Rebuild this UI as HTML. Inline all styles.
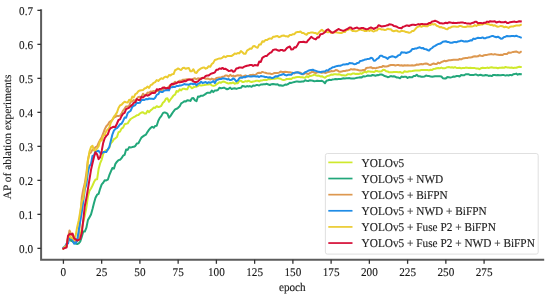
<!DOCTYPE html>
<html><head><meta charset="utf-8"><style>
html,body{margin:0;padding:0;background:#fff;}
svg{display:block;}
text{text-rendering:geometricPrecision;font-family:"Liberation Serif","DejaVu Serif",serif;font-size:11.2px;fill:#1a1a1a;stroke:#1a1a1a;stroke-width:0.12px;}
</style></head><body>
<svg width="550" height="299" viewBox="0 0 550 299">
<g fill="none" stroke-width="2.0" stroke-linejoin="round" stroke-linecap="square">
<path d="M63.4,248.6 L64.9,247.1 L66.5,246.5 L68.0,239.2 L69.5,238.0 L71.1,238.8 L72.6,239.0 L74.1,241.0 L75.7,241.0 L77.2,239.0 L78.7,238.3 L80.2,235.7 L81.8,229.2 L83.3,221.9 L84.8,215.6 L86.4,207.4 L87.9,196.7 L89.4,190.9 L91.0,188.5 L92.5,185.5 L94.0,182.1 L95.5,179.5 L97.1,179.3 L98.6,169.1 L100.1,163.4 L101.7,159.6 L103.2,154.0 L104.7,151.3 L106.3,150.0 L107.8,149.7 L109.3,147.7 L110.8,143.3 L112.4,141.6 L113.9,139.2 L115.4,138.3 L117.0,137.0 L118.5,132.2 L120.0,131.6 L121.5,128.6 L123.1,127.7 L124.6,124.3 L126.1,123.8 L127.7,123.4 L129.2,120.8 L130.7,119.0 L132.3,118.0 L133.8,117.1 L135.3,116.4 L136.8,115.3 L138.4,115.0 L139.9,113.5 L141.4,112.6 L143.0,112.3 L144.5,113.5 L146.0,113.6 L147.6,110.8 L149.1,112.2 L150.6,110.4 L152.1,109.2 L153.7,107.6 L155.2,107.9 L156.7,106.2 L158.3,107.0 L159.8,106.7 L161.3,105.8 L162.9,102.8 L164.4,101.4 L165.9,98.8 L167.4,98.2 L169.0,101.8 L170.5,99.5 L172.0,97.6 L173.6,95.4 L175.1,94.7 L176.6,91.0 L178.1,91.8 L179.7,89.4 L181.2,90.4 L182.7,88.7 L184.3,88.8 L185.8,89.3 L187.3,89.2 L188.9,85.9 L190.4,86.6 L191.9,88.3 L193.4,87.3 L195.0,86.7 L196.5,86.7 L198.0,86.0 L199.6,85.0 L201.1,85.6 L202.6,85.2 L204.2,85.1 L205.7,84.8 L207.2,84.6 L208.7,84.5 L210.3,84.1 L211.8,85.4 L213.3,85.9 L214.9,85.5 L216.4,84.4 L217.9,83.4 L219.4,82.2 L221.0,82.8 L222.5,81.7 L224.0,81.6 L225.6,82.4 L227.1,83.0 L228.6,83.6 L230.2,83.0 L231.7,83.2 L233.2,82.4 L234.7,83.7 L236.3,83.1 L237.8,83.2 L239.3,80.7 L240.9,80.7 L242.4,81.9 L243.9,81.9 L245.5,81.1 L247.0,81.5 L248.5,80.7 L250.0,81.5 L251.6,82.0 L253.1,81.5 L254.6,81.2 L256.2,80.8 L257.7,80.7 L259.2,81.4 L260.8,80.4 L262.3,80.4 L263.8,79.9 L265.3,79.7 L266.9,79.9 L268.4,79.0 L269.9,79.2 L271.5,79.0 L273.0,78.7 L274.5,78.7 L276.0,78.5 L277.6,78.1 L279.1,78.4 L280.6,78.7 L282.2,79.8 L283.7,80.0 L285.2,79.7 L286.8,79.0 L288.3,79.0 L289.8,78.8 L291.3,79.0 L292.9,77.7 L294.4,77.7 L295.9,77.3 L297.5,77.1 L299.0,76.9 L300.5,77.3 L302.1,77.3 L303.6,77.6 L305.1,77.8 L306.6,76.2 L308.2,77.2 L309.7,75.8 L311.2,75.9 L312.8,75.4 L314.3,74.6 L315.8,75.2 L317.4,75.7 L318.9,75.6 L320.4,76.4 L321.9,76.2 L323.5,77.1 L325.0,77.7 L326.5,76.4 L328.1,75.9 L329.6,75.5 L331.1,74.5 L332.6,74.7 L334.2,74.2 L335.7,74.3 L337.2,74.5 L338.8,74.2 L340.3,74.6 L341.8,75.3 L343.4,75.3 L344.9,75.5 L346.4,75.2 L347.9,74.2 L349.5,74.3 L351.0,74.4 L352.5,73.6 L354.1,73.5 L355.6,74.0 L357.1,73.8 L358.7,74.0 L360.2,73.3 L361.7,73.7 L363.2,72.6 L364.8,71.8 L366.3,72.4 L367.8,71.3 L369.4,71.4 L370.9,71.8 L372.4,71.8 L373.9,72.1 L375.5,71.1 L377.0,70.9 L378.5,71.6 L380.1,71.4 L381.6,71.2 L383.1,69.8 L384.7,70.0 L386.2,71.3 L387.7,71.5 L389.2,72.3 L390.8,72.2 L392.3,72.3 L393.8,72.0 L395.4,72.0 L396.9,72.0 L398.4,72.2 L400.0,72.0 L401.5,72.7 L403.0,72.7 L404.5,71.3 L406.1,71.7 L407.6,71.7 L409.1,71.2 L410.7,71.2 L412.2,71.0 L413.7,70.7 L415.3,70.4 L416.8,70.6 L418.3,70.5 L419.8,70.5 L421.4,69.9 L422.9,70.0 L424.4,70.1 L426.0,70.0 L427.5,70.0 L429.0,70.4 L430.5,69.7 L432.1,70.0 L433.6,68.9 L435.1,68.8 L436.7,68.2 L438.2,68.0 L439.7,68.3 L441.3,67.6 L442.8,68.3 L444.3,68.2 L445.8,67.9 L447.4,67.2 L448.9,67.1 L450.4,67.4 L452.0,67.3 L453.5,67.7 L455.0,67.1 L456.6,68.0 L458.1,67.9 L459.6,67.7 L461.1,68.4 L462.7,68.0 L464.2,68.1 L465.7,67.6 L467.3,67.7 L468.8,67.9 L470.3,67.8 L471.8,68.1 L473.4,68.0 L474.9,68.1 L476.4,68.5 L478.0,68.5 L479.5,69.2 L481.0,68.2 L482.6,67.7 L484.1,67.9 L485.6,68.1 L487.1,67.6 L488.7,67.9 L490.2,67.6 L491.7,67.3 L493.3,67.7 L494.8,67.8 L496.3,67.7 L497.9,68.2 L499.4,67.7 L500.9,67.8 L502.4,67.6 L504.0,67.8 L505.5,67.0 L507.0,67.4 L508.6,67.5 L510.1,67.7 L511.6,67.6 L513.2,67.9 L514.7,67.7 L516.2,67.7 L517.7,67.2 L519.3,66.8 L520.8,67.0" stroke="#cfe92c"/>
<path d="M63.4,248.6 L64.9,247.1 L66.5,246.5 L68.0,240.0 L69.5,239.0 L71.1,240.7 L72.6,241.3 L74.1,243.2 L75.7,243.6 L77.2,244.0 L78.7,243.3 L80.2,241.6 L81.8,236.6 L83.3,231.5 L84.8,231.6 L86.4,227.6 L87.9,220.1 L89.4,217.4 L91.0,214.5 L92.5,209.1 L94.0,203.1 L95.5,197.8 L97.1,194.7 L98.6,193.9 L100.1,188.8 L101.7,184.4 L103.2,182.8 L104.7,180.3 L106.3,180.4 L107.8,179.7 L109.3,175.2 L110.8,171.7 L112.4,168.0 L113.9,168.7 L115.4,163.9 L117.0,161.7 L118.5,160.1 L120.0,159.7 L121.5,158.3 L123.1,155.7 L124.6,154.9 L126.1,149.5 L127.7,149.9 L129.2,147.1 L130.7,147.5 L132.3,147.1 L133.8,146.8 L135.3,146.0 L136.8,143.6 L138.4,143.3 L139.9,140.4 L141.4,137.6 L143.0,136.4 L144.5,135.4 L146.0,134.6 L147.6,131.8 L149.1,129.7 L150.6,128.0 L152.1,126.7 L153.7,127.8 L155.2,125.9 L156.7,125.8 L158.3,120.7 L159.8,117.9 L161.3,116.1 L162.9,113.1 L164.4,112.4 L165.9,112.8 L167.4,113.6 L169.0,117.7 L170.5,116.0 L172.0,113.6 L173.6,111.3 L175.1,109.4 L176.6,108.8 L178.1,107.8 L179.7,106.2 L181.2,103.4 L182.7,102.5 L184.3,101.2 L185.8,101.6 L187.3,100.2 L188.9,100.5 L190.4,100.9 L191.9,98.3 L193.4,98.1 L195.0,100.4 L196.5,101.2 L198.0,96.5 L199.6,96.7 L201.1,95.7 L202.6,95.8 L204.2,94.9 L205.7,93.9 L207.2,92.7 L208.7,92.7 L210.3,92.8 L211.8,90.5 L213.3,92.1 L214.9,90.4 L216.4,90.5 L217.9,90.0 L219.4,87.8 L221.0,88.2 L222.5,88.0 L224.0,87.6 L225.6,88.5 L227.1,89.3 L228.6,88.7 L230.2,87.6 L231.7,89.1 L233.2,88.4 L234.7,88.3 L236.3,88.9 L237.8,88.4 L239.3,87.9 L240.9,87.8 L242.4,86.0 L243.9,86.3 L245.5,86.8 L247.0,86.1 L248.5,86.4 L250.0,86.1 L251.6,86.8 L253.1,85.5 L254.6,85.8 L256.2,85.1 L257.7,85.1 L259.2,85.5 L260.8,84.5 L262.3,84.5 L263.8,84.3 L265.3,84.2 L266.9,83.8 L268.4,84.5 L269.9,85.0 L271.5,84.2 L273.0,84.0 L274.5,84.3 L276.0,84.6 L277.6,84.3 L279.1,85.4 L280.6,85.3 L282.2,85.8 L283.7,85.5 L285.2,84.5 L286.8,84.7 L288.3,84.0 L289.8,82.7 L291.3,82.9 L292.9,82.4 L294.4,82.0 L295.9,81.6 L297.5,81.5 L299.0,81.7 L300.5,81.8 L302.1,81.5 L303.6,81.6 L305.1,80.3 L306.6,80.7 L308.2,81.0 L309.7,80.3 L311.2,80.4 L312.8,80.8 L314.3,81.2 L315.8,81.1 L317.4,80.8 L318.9,81.0 L320.4,81.0 L321.9,80.7 L323.5,81.8 L325.0,83.3 L326.5,80.8 L328.1,80.3 L329.6,79.7 L331.1,80.1 L332.6,79.4 L334.2,79.3 L335.7,79.0 L337.2,79.3 L338.8,78.9 L340.3,79.1 L341.8,78.7 L343.4,78.3 L344.9,78.4 L346.4,78.3 L347.9,78.2 L349.5,78.1 L351.0,78.5 L352.5,78.5 L354.1,78.6 L355.6,78.1 L357.1,77.7 L358.7,77.6 L360.2,77.3 L361.7,77.4 L363.2,76.2 L364.8,76.5 L366.3,76.1 L367.8,75.5 L369.4,75.8 L370.9,75.8 L372.4,75.0 L373.9,75.3 L375.5,75.7 L377.0,75.1 L378.5,75.2 L380.1,74.5 L381.6,74.5 L383.1,75.2 L384.7,76.1 L386.2,76.4 L387.7,77.2 L389.2,76.7 L390.8,76.1 L392.3,76.4 L393.8,76.2 L395.4,76.8 L396.9,77.5 L398.4,77.6 L400.0,78.2 L401.5,76.6 L403.0,76.9 L404.5,76.7 L406.1,76.7 L407.6,78.0 L409.1,77.0 L410.7,77.2 L412.2,77.2 L413.7,76.0 L415.3,75.9 L416.8,74.8 L418.3,76.2 L419.8,76.3 L421.4,76.8 L422.9,76.7 L424.4,76.6 L426.0,75.5 L427.5,75.9 L429.0,76.1 L430.5,76.4 L432.1,76.8 L433.6,76.5 L435.1,76.2 L436.7,76.3 L438.2,76.3 L439.7,76.2 L441.3,76.4 L442.8,78.2 L444.3,78.4 L445.8,78.4 L447.4,77.1 L448.9,77.2 L450.4,77.6 L452.0,77.1 L453.5,76.5 L455.0,76.7 L456.6,76.0 L458.1,76.0 L459.6,76.5 L461.1,75.1 L462.7,75.2 L464.2,75.3 L465.7,74.2 L467.3,74.3 L468.8,74.3 L470.3,75.1 L471.8,74.9 L473.4,75.1 L474.9,74.6 L476.4,74.6 L478.0,75.4 L479.5,75.1 L481.0,74.8 L482.6,75.5 L484.1,75.4 L485.6,75.1 L487.1,75.2 L488.7,75.9 L490.2,75.6 L491.7,76.1 L493.3,74.9 L494.8,75.0 L496.3,75.3 L497.9,75.1 L499.4,75.2 L500.9,75.2 L502.4,75.1 L504.0,75.1 L505.5,75.6 L507.0,75.1 L508.6,75.5 L510.1,74.9 L511.6,75.3 L513.2,74.3 L514.7,74.1 L516.2,73.6 L517.7,74.7 L519.3,74.0 L520.8,74.1" stroke="#22a77a"/>
<path d="M63.4,248.6 L64.9,246.7 L66.5,246.0 L68.0,238.0 L69.5,230.5 L71.1,233.6 L72.6,236.0 L74.1,240.9 L75.7,241.0 L77.2,240.9 L78.7,236.3 L80.2,218.0 L81.8,197.5 L83.3,189.3 L84.8,183.3 L86.4,173.1 L87.9,160.3 L89.4,153.6 L91.0,152.4 L92.5,149.6 L94.0,149.1 L95.5,147.1 L97.1,146.4 L98.6,142.9 L100.1,139.9 L101.7,137.2 L103.2,133.3 L104.7,129.4 L106.3,126.2 L107.8,124.7 L109.3,122.2 L110.8,121.2 L112.4,119.8 L113.9,117.6 L115.4,116.8 L117.0,115.8 L118.5,116.0 L120.0,115.6 L121.5,113.7 L123.1,110.5 L124.6,108.5 L126.1,106.4 L127.7,106.5 L129.2,105.9 L130.7,101.7 L132.3,101.5 L133.8,100.1 L135.3,101.1 L136.8,98.6 L138.4,96.9 L139.9,96.8 L141.4,97.1 L143.0,93.7 L144.5,95.2 L146.0,94.6 L147.6,92.6 L149.1,92.7 L150.6,91.5 L152.1,91.7 L153.7,90.9 L155.2,91.3 L156.7,91.1 L158.3,90.9 L159.8,90.8 L161.3,90.3 L162.9,89.9 L164.4,87.4 L165.9,88.2 L167.4,87.9 L169.0,86.4 L170.5,85.0 L172.0,85.2 L173.6,83.2 L175.1,81.8 L176.6,83.3 L178.1,81.6 L179.7,80.7 L181.2,80.8 L182.7,79.8 L184.3,79.7 L185.8,79.4 L187.3,79.2 L188.9,79.6 L190.4,79.8 L191.9,80.5 L193.4,78.7 L195.0,78.3 L196.5,79.3 L198.0,78.2 L199.6,78.6 L201.1,78.2 L202.6,77.8 L204.2,78.1 L205.7,78.8 L207.2,78.6 L208.7,78.8 L210.3,79.6 L211.8,78.6 L213.3,79.1 L214.9,79.7 L216.4,78.0 L217.9,77.8 L219.4,77.6 L221.0,77.6 L222.5,76.7 L224.0,76.5 L225.6,75.4 L227.1,75.5 L228.6,76.6 L230.2,74.8 L231.7,76.1 L233.2,75.6 L234.7,76.5 L236.3,75.7 L237.8,75.3 L239.3,75.6 L240.9,75.3 L242.4,77.2 L243.9,76.2 L245.5,75.4 L247.0,76.6 L248.5,76.1 L250.0,75.1 L251.6,75.0 L253.1,74.8 L254.6,75.3 L256.2,74.2 L257.7,73.0 L259.2,72.7 L260.8,73.0 L262.3,71.9 L263.8,72.4 L265.3,72.8 L266.9,73.3 L268.4,73.5 L269.9,73.5 L271.5,74.1 L273.0,73.7 L274.5,73.0 L276.0,73.1 L277.6,73.0 L279.1,72.6 L280.6,71.6 L282.2,71.9 L283.7,71.9 L285.2,71.8 L286.8,71.9 L288.3,72.3 L289.8,72.3 L291.3,72.6 L292.9,72.8 L294.4,73.5 L295.9,72.5 L297.5,72.6 L299.0,72.4 L300.5,72.8 L302.1,74.3 L303.6,74.2 L305.1,73.1 L306.6,73.5 L308.2,74.1 L309.7,73.1 L311.2,72.3 L312.8,71.7 L314.3,72.5 L315.8,73.1 L317.4,72.4 L318.9,72.0 L320.4,72.2 L321.9,72.9 L323.5,72.4 L325.0,72.9 L326.5,72.7 L328.1,71.9 L329.6,71.7 L331.1,71.1 L332.6,71.2 L334.2,71.0 L335.7,70.1 L337.2,70.2 L338.8,71.4 L340.3,71.7 L341.8,71.4 L343.4,71.1 L344.9,71.1 L346.4,70.5 L347.9,70.4 L349.5,70.0 L351.0,69.1 L352.5,69.5 L354.1,69.3 L355.6,69.6 L357.1,69.8 L358.7,70.2 L360.2,70.6 L361.7,70.5 L363.2,69.9 L364.8,70.2 L366.3,67.9 L367.8,67.7 L369.4,67.5 L370.9,67.2 L372.4,68.2 L373.9,67.9 L375.5,68.4 L377.0,67.8 L378.5,67.5 L380.1,66.9 L381.6,67.1 L383.1,65.9 L384.7,66.5 L386.2,66.5 L387.7,66.3 L389.2,65.5 L390.8,65.0 L392.3,64.9 L393.8,65.0 L395.4,65.5 L396.9,65.1 L398.4,65.0 L400.0,65.5 L401.5,65.3 L403.0,65.8 L404.5,65.2 L406.1,65.5 L407.6,65.2 L409.1,65.4 L410.7,65.5 L412.2,65.2 L413.7,65.6 L415.3,65.3 L416.8,64.5 L418.3,64.7 L419.8,64.2 L421.4,64.0 L422.9,64.4 L424.4,63.7 L426.0,63.6 L427.5,63.8 L429.0,64.7 L430.5,65.0 L432.1,64.2 L433.6,63.5 L435.1,64.0 L436.7,63.9 L438.2,62.6 L439.7,63.2 L441.3,62.1 L442.8,61.5 L444.3,60.8 L445.8,61.3 L447.4,60.7 L448.9,60.3 L450.4,60.2 L452.0,59.9 L453.5,59.7 L455.0,59.7 L456.6,59.7 L458.1,59.8 L459.6,59.0 L461.1,59.4 L462.7,58.6 L464.2,58.3 L465.7,58.1 L467.3,58.1 L468.8,57.4 L470.3,57.5 L471.8,57.3 L473.4,56.5 L474.9,56.3 L476.4,56.6 L478.0,56.3 L479.5,55.3 L481.0,55.8 L482.6,56.0 L484.1,55.2 L485.6,54.9 L487.1,54.9 L488.7,54.4 L490.2,54.2 L491.7,54.1 L493.3,54.6 L494.8,54.1 L496.3,54.5 L497.9,54.7 L499.4,54.9 L500.9,54.8 L502.4,55.1 L504.0,54.0 L505.5,54.0 L507.0,54.0 L508.6,52.5 L510.1,52.7 L511.6,52.4 L513.2,51.9 L514.7,51.7 L516.2,51.5 L517.7,52.1 L519.3,52.8 L520.8,51.8" stroke="#dd9850"/>
<path d="M63.4,247.5 L64.9,246.6 L66.5,243.6 L68.0,243.5 L69.5,237.6 L71.1,238.6 L72.6,239.6 L74.1,243.6 L75.7,243.2 L77.2,240.2 L78.7,230.6 L80.2,221.5 L81.8,211.8 L83.3,201.1 L84.8,189.5 L86.4,184.4 L87.9,172.1 L89.4,166.1 L91.0,164.0 L92.5,156.0 L94.0,155.3 L95.5,151.0 L97.1,151.2 L98.6,150.8 L100.1,152.9 L101.7,153.6 L103.2,152.1 L104.7,152.1 L106.3,152.1 L107.8,149.5 L109.3,147.0 L110.8,141.1 L112.4,134.5 L113.9,130.7 L115.4,128.9 L117.0,128.2 L118.5,126.3 L120.0,124.3 L121.5,123.8 L123.1,120.9 L124.6,117.6 L126.1,117.8 L127.7,113.0 L129.2,111.8 L130.7,110.7 L132.3,106.9 L133.8,105.8 L135.3,105.0 L136.8,102.8 L138.4,102.9 L139.9,102.8 L141.4,100.0 L143.0,99.9 L144.5,99.9 L146.0,99.0 L147.6,99.3 L149.1,98.4 L150.6,98.7 L152.1,98.7 L153.7,99.1 L155.2,97.7 L156.7,94.9 L158.3,94.2 L159.8,91.4 L161.3,91.9 L162.9,91.9 L164.4,90.4 L165.9,90.2 L167.4,90.0 L169.0,90.4 L170.5,87.2 L172.0,87.3 L173.6,86.7 L175.1,86.9 L176.6,86.0 L178.1,86.1 L179.7,85.5 L181.2,85.4 L182.7,84.9 L184.3,84.0 L185.8,84.6 L187.3,84.6 L188.9,84.7 L190.4,83.8 L191.9,83.8 L193.4,84.3 L195.0,83.3 L196.5,85.4 L198.0,83.9 L199.6,83.2 L201.1,81.7 L202.6,83.0 L204.2,82.5 L205.7,82.0 L207.2,83.2 L208.7,82.2 L210.3,82.7 L211.8,82.1 L213.3,81.1 L214.9,83.0 L216.4,80.1 L217.9,79.7 L219.4,79.0 L221.0,79.1 L222.5,78.3 L224.0,78.5 L225.6,78.7 L227.1,79.4 L228.6,79.1 L230.2,80.1 L231.7,79.8 L233.2,78.3 L234.7,79.3 L236.3,81.4 L237.8,80.5 L239.3,78.2 L240.9,77.5 L242.4,77.7 L243.9,76.9 L245.5,77.2 L247.0,76.2 L248.5,76.3 L250.0,76.4 L251.6,76.5 L253.1,76.3 L254.6,76.3 L256.2,76.5 L257.7,76.2 L259.2,77.0 L260.8,76.0 L262.3,76.3 L263.8,76.5 L265.3,77.1 L266.9,77.1 L268.4,77.6 L269.9,77.3 L271.5,77.9 L273.0,77.9 L274.5,77.0 L276.0,76.2 L277.6,76.4 L279.1,75.4 L280.6,75.0 L282.2,74.5 L283.7,74.0 L285.2,75.1 L286.8,75.4 L288.3,74.7 L289.8,74.7 L291.3,74.8 L292.9,73.0 L294.4,72.8 L295.9,72.4 L297.5,72.2 L299.0,72.8 L300.5,73.6 L302.1,73.9 L303.6,73.6 L305.1,72.2 L306.6,71.8 L308.2,70.7 L309.7,70.3 L311.2,69.9 L312.8,69.7 L314.3,70.5 L315.8,70.8 L317.4,71.5 L318.9,71.7 L320.4,72.2 L321.9,71.7 L323.5,71.6 L325.0,71.6 L326.5,70.2 L328.1,70.6 L329.6,69.0 L331.1,68.4 L332.6,67.3 L334.2,67.0 L335.7,66.4 L337.2,66.0 L338.8,65.8 L340.3,65.7 L341.8,65.1 L343.4,64.4 L344.9,64.5 L346.4,64.1 L347.9,64.3 L349.5,63.1 L351.0,63.3 L352.5,63.3 L354.1,64.2 L355.6,64.1 L357.1,63.1 L358.7,62.8 L360.2,60.9 L361.7,60.7 L363.2,60.3 L364.8,59.6 L366.3,59.4 L367.8,58.9 L369.4,58.8 L370.9,57.8 L372.4,58.2 L373.9,60.7 L375.5,60.4 L377.0,58.9 L378.5,58.1 L380.1,55.7 L381.6,55.7 L383.1,56.7 L384.7,57.1 L386.2,57.7 L387.7,58.9 L389.2,57.3 L390.8,56.7 L392.3,56.2 L393.8,56.6 L395.4,57.5 L396.9,56.7 L398.4,55.3 L400.0,54.9 L401.5,52.3 L403.0,52.6 L404.5,52.4 L406.1,53.0 L407.6,52.5 L409.1,52.0 L410.7,51.2 L412.2,49.1 L413.7,49.1 L415.3,48.4 L416.8,48.4 L418.3,47.7 L419.8,47.3 L421.4,48.2 L422.9,47.9 L424.4,49.1 L426.0,49.2 L427.5,50.0 L429.0,50.7 L430.5,49.0 L432.1,48.0 L433.6,46.6 L435.1,45.9 L436.7,44.9 L438.2,44.0 L439.7,43.8 L441.3,43.0 L442.8,41.7 L444.3,41.4 L445.8,41.2 L447.4,42.0 L448.9,42.1 L450.4,42.8 L452.0,42.7 L453.5,42.3 L455.0,41.9 L456.6,42.2 L458.1,41.5 L459.6,41.3 L461.1,40.6 L462.7,41.0 L464.2,41.6 L465.7,41.2 L467.3,41.4 L468.8,41.1 L470.3,40.3 L471.8,40.5 L473.4,38.6 L474.9,39.0 L476.4,38.4 L478.0,37.8 L479.5,37.9 L481.0,38.0 L482.6,37.4 L484.1,38.3 L485.6,38.2 L487.1,37.4 L488.7,37.3 L490.2,36.6 L491.7,36.1 L493.3,36.1 L494.8,36.8 L496.3,37.3 L497.9,36.7 L499.4,37.7 L500.9,38.7 L502.4,38.5 L504.0,37.1 L505.5,36.7 L507.0,36.0 L508.6,36.2 L510.1,36.2 L511.6,35.9 L513.2,36.0 L514.7,36.2 L516.2,35.8 L517.7,36.4 L519.3,36.9 L520.8,37.5" stroke="#1f8ce6"/>
<path d="M63.4,248.6 L64.9,246.7 L66.5,246.0 L68.0,237.4 L69.5,236.0 L71.1,237.7 L72.6,238.1 L74.1,240.0 L75.7,235.1 L77.2,226.9 L78.7,220.4 L80.2,211.8 L81.8,201.9 L83.3,198.2 L84.8,186.5 L86.4,177.3 L87.9,160.6 L89.4,151.8 L91.0,147.1 L92.5,145.7 L94.0,150.4 L95.5,150.5 L97.1,148.5 L98.6,146.2 L100.1,140.8 L101.7,140.5 L103.2,135.5 L104.7,135.1 L106.3,131.0 L107.8,129.4 L109.3,127.6 L110.8,122.8 L112.4,119.8 L113.9,116.7 L115.4,114.9 L117.0,112.4 L118.5,108.0 L120.0,105.4 L121.5,104.8 L123.1,103.0 L124.6,101.7 L126.1,102.2 L127.7,102.6 L129.2,99.7 L130.7,100.8 L132.3,96.6 L133.8,97.4 L135.3,94.1 L136.8,93.4 L138.4,91.2 L139.9,90.5 L141.4,90.2 L143.0,90.1 L144.5,88.5 L146.0,88.0 L147.6,86.5 L149.1,87.9 L150.6,85.1 L152.1,84.5 L153.7,82.8 L155.2,82.1 L156.7,80.0 L158.3,81.0 L159.8,79.3 L161.3,78.3 L162.9,78.9 L164.4,77.2 L165.9,76.6 L167.4,77.5 L169.0,75.1 L170.5,75.4 L172.0,74.2 L173.6,74.1 L175.1,70.2 L176.6,69.5 L178.1,68.4 L179.7,69.3 L181.2,70.0 L182.7,68.1 L184.3,67.8 L185.8,68.8 L187.3,68.3 L188.9,68.1 L190.4,71.3 L191.9,71.2 L193.4,69.2 L195.0,72.5 L196.5,73.0 L198.0,70.6 L199.6,69.4 L201.1,68.4 L202.6,67.8 L204.2,67.4 L205.7,68.7 L207.2,68.0 L208.7,66.2 L210.3,66.8 L211.8,64.0 L213.3,62.9 L214.9,59.9 L216.4,59.6 L217.9,58.9 L219.4,58.4 L221.0,58.5 L222.5,57.6 L224.0,56.3 L225.6,57.2 L227.1,56.1 L228.6,56.1 L230.2,55.9 L231.7,55.9 L233.2,54.9 L234.7,53.5 L236.3,53.9 L237.8,53.0 L239.3,53.4 L240.9,51.0 L242.4,52.3 L243.9,53.8 L245.5,53.8 L247.0,50.6 L248.5,49.7 L250.0,48.5 L251.6,48.7 L253.1,46.3 L254.6,46.1 L256.2,47.3 L257.7,47.7 L259.2,44.4 L260.8,44.5 L262.3,41.3 L263.8,41.7 L265.3,40.1 L266.9,40.1 L268.4,39.0 L269.9,38.4 L271.5,38.8 L273.0,36.8 L274.5,36.7 L276.0,36.3 L277.6,36.1 L279.1,37.2 L280.6,36.5 L282.2,35.7 L283.7,35.4 L285.2,36.2 L286.8,36.2 L288.3,36.7 L289.8,35.0 L291.3,35.1 L292.9,34.2 L294.4,34.2 L295.9,32.4 L297.5,32.1 L299.0,32.0 L300.5,31.5 L302.1,33.0 L303.6,33.0 L305.1,34.1 L306.6,34.7 L308.2,33.0 L309.7,32.9 L311.2,32.4 L312.8,32.6 L314.3,32.9 L315.8,33.1 L317.4,34.2 L318.9,32.4 L320.4,30.9 L321.9,29.7 L323.5,31.2 L325.0,31.5 L326.5,32.0 L328.1,32.3 L329.6,31.5 L331.1,32.9 L332.6,32.4 L334.2,32.5 L335.7,32.0 L337.2,32.5 L338.8,32.7 L340.3,32.9 L341.8,32.9 L343.4,31.9 L344.9,32.1 L346.4,29.9 L347.9,29.9 L349.5,28.9 L351.0,29.6 L352.5,30.9 L354.1,31.1 L355.6,31.2 L357.1,30.9 L358.7,30.2 L360.2,29.1 L361.7,30.1 L363.2,30.2 L364.8,31.1 L366.3,31.1 L367.8,30.4 L369.4,30.9 L370.9,29.7 L372.4,31.1 L373.9,31.5 L375.5,30.6 L377.0,30.4 L378.5,28.5 L380.1,28.9 L381.6,29.6 L383.1,29.6 L384.7,29.9 L386.2,29.7 L387.7,28.8 L389.2,29.3 L390.8,29.2 L392.3,30.8 L393.8,31.2 L395.4,30.8 L396.9,30.5 L398.4,31.6 L400.0,31.7 L401.5,30.8 L403.0,31.1 L404.5,31.3 L406.1,32.1 L407.6,32.3 L409.1,32.8 L410.7,32.4 L412.2,30.9 L413.7,30.9 L415.3,29.1 L416.8,27.4 L418.3,26.6 L419.8,25.9 L421.4,26.8 L422.9,25.8 L424.4,26.1 L426.0,26.2 L427.5,26.3 L429.0,24.8 L430.5,24.9 L432.1,24.1 L433.6,24.4 L435.1,24.1 L436.7,25.7 L438.2,26.2 L439.7,27.3 L441.3,27.1 L442.8,27.8 L444.3,28.1 L445.8,28.9 L447.4,29.2 L448.9,27.8 L450.4,27.7 L452.0,26.7 L453.5,26.5 L455.0,26.6 L456.6,26.8 L458.1,26.8 L459.6,25.9 L461.1,26.1 L462.7,26.7 L464.2,26.9 L465.7,27.0 L467.3,26.3 L468.8,26.5 L470.3,26.2 L471.8,26.5 L473.4,26.1 L474.9,25.1 L476.4,26.0 L478.0,24.8 L479.5,24.9 L481.0,24.5 L482.6,24.5 L484.1,23.6 L485.6,23.6 L487.1,23.9 L488.7,24.2 L490.2,24.9 L491.7,24.7 L493.3,25.7 L494.8,25.3 L496.3,26.2 L497.9,26.8 L499.4,26.4 L500.9,25.9 L502.4,26.2 L504.0,27.2 L505.5,26.7 L507.0,27.1 L508.6,27.9 L510.1,26.8 L511.6,26.5 L513.2,26.5 L514.7,25.9 L516.2,25.6 L517.7,25.6 L519.3,25.6 L520.8,24.8" stroke="#ebcb30"/>
<path d="M63.4,248.6 L64.9,247.9 L66.5,247.6 L68.0,235.8 L69.5,234.1 L71.1,234.4 L72.6,233.6 L74.1,238.3 L75.7,239.3 L77.2,240.6 L78.7,240.0 L80.2,239.0 L81.8,232.8 L83.3,219.6 L84.8,206.0 L86.4,198.1 L87.9,189.1 L89.4,179.8 L91.0,169.9 L92.5,163.3 L94.0,157.0 L95.5,152.3 L97.1,154.4 L98.6,159.1 L100.1,157.3 L101.7,150.9 L103.2,142.9 L104.7,138.2 L106.3,135.9 L107.8,134.4 L109.3,130.0 L110.8,128.0 L112.4,127.3 L113.9,126.7 L115.4,127.0 L117.0,123.5 L118.5,120.0 L120.0,119.3 L121.5,116.1 L123.1,113.7 L124.6,112.9 L126.1,109.2 L127.7,108.4 L129.2,107.6 L130.7,106.1 L132.3,104.8 L133.8,102.9 L135.3,102.2 L136.8,99.1 L138.4,100.0 L139.9,100.1 L141.4,96.8 L143.0,97.6 L144.5,96.1 L146.0,95.0 L147.6,95.7 L149.1,95.0 L150.6,93.9 L152.1,92.7 L153.7,92.9 L155.2,92.7 L156.7,89.3 L158.3,89.8 L159.8,88.9 L161.3,88.7 L162.9,87.6 L164.4,87.7 L165.9,88.5 L167.4,87.9 L169.0,88.4 L170.5,85.1 L172.0,83.8 L173.6,84.2 L175.1,83.5 L176.6,83.0 L178.1,82.0 L179.7,82.4 L181.2,82.0 L182.7,81.8 L184.3,80.9 L185.8,81.2 L187.3,80.1 L188.9,79.5 L190.4,79.4 L191.9,79.4 L193.4,81.6 L195.0,81.9 L196.5,82.2 L198.0,81.4 L199.6,79.6 L201.1,78.8 L202.6,77.9 L204.2,77.7 L205.7,75.9 L207.2,75.6 L208.7,75.4 L210.3,74.2 L211.8,73.4 L213.3,73.1 L214.9,72.3 L216.4,69.8 L217.9,69.7 L219.4,68.4 L221.0,68.9 L222.5,67.9 L224.0,69.1 L225.6,68.8 L227.1,69.8 L228.6,70.9 L230.2,70.7 L231.7,70.3 L233.2,71.7 L234.7,71.2 L236.3,68.6 L237.8,68.3 L239.3,67.4 L240.9,67.5 L242.4,67.8 L243.9,66.9 L245.5,66.2 L247.0,65.7 L248.5,65.6 L250.0,65.0 L251.6,64.9 L253.1,65.9 L254.6,65.1 L256.2,65.3 L257.7,65.6 L259.2,61.6 L260.8,61.9 L262.3,57.9 L263.8,56.9 L265.3,56.0 L266.9,55.9 L268.4,54.2 L269.9,52.9 L271.5,52.3 L273.0,50.0 L274.5,49.6 L276.0,49.4 L277.6,50.3 L279.1,50.8 L280.6,50.0 L282.2,50.0 L283.7,50.8 L285.2,50.2 L286.8,48.1 L288.3,47.1 L289.8,46.5 L291.3,49.5 L292.9,49.3 L294.4,47.3 L295.9,47.5 L297.5,45.0 L299.0,42.2 L300.5,41.9 L302.1,42.0 L303.6,41.7 L305.1,42.2 L306.6,42.3 L308.2,40.2 L309.7,38.6 L311.2,36.8 L312.8,38.0 L314.3,38.9 L315.8,39.4 L317.4,37.3 L318.9,37.4 L320.4,34.3 L321.9,34.0 L323.5,33.3 L325.0,32.2 L326.5,30.2 L328.1,29.3 L329.6,30.7 L331.1,32.1 L332.6,32.8 L334.2,31.8 L335.7,30.8 L337.2,29.8 L338.8,29.0 L340.3,30.0 L341.8,30.4 L343.4,30.9 L344.9,30.3 L346.4,29.4 L347.9,28.8 L349.5,27.5 L351.0,27.6 L352.5,28.9 L354.1,28.5 L355.6,27.9 L357.1,27.6 L358.7,28.5 L360.2,28.5 L361.7,27.9 L363.2,28.0 L364.8,28.8 L366.3,29.2 L367.8,29.1 L369.4,28.1 L370.9,27.5 L372.4,28.2 L373.9,29.0 L375.5,27.9 L377.0,27.5 L378.5,25.2 L380.1,25.8 L381.6,26.5 L383.1,26.3 L384.7,26.1 L386.2,25.6 L387.7,25.3 L389.2,24.3 L390.8,24.4 L392.3,24.9 L393.8,25.9 L395.4,26.2 L396.9,26.7 L398.4,27.8 L400.0,28.0 L401.5,28.3 L403.0,26.8 L404.5,26.4 L406.1,25.6 L407.6,25.5 L409.1,26.0 L410.7,25.2 L412.2,24.7 L413.7,24.7 L415.3,25.0 L416.8,24.6 L418.3,24.1 L419.8,24.5 L421.4,23.9 L422.9,24.1 L424.4,24.2 L426.0,24.3 L427.5,24.1 L429.0,23.0 L430.5,22.9 L432.1,21.5 L433.6,21.3 L435.1,20.8 L436.7,21.4 L438.2,22.2 L439.7,23.2 L441.3,23.2 L442.8,23.6 L444.3,23.3 L445.8,22.7 L447.4,23.2 L448.9,22.3 L450.4,22.5 L452.0,22.9 L453.5,22.7 L455.0,23.1 L456.6,23.1 L458.1,22.8 L459.6,22.8 L461.1,22.4 L462.7,22.5 L464.2,22.9 L465.7,23.1 L467.3,23.6 L468.8,23.6 L470.3,23.7 L471.8,23.1 L473.4,22.8 L474.9,21.8 L476.4,21.7 L478.0,23.3 L479.5,23.0 L481.0,23.0 L482.6,23.4 L484.1,22.8 L485.6,22.8 L487.1,21.6 L488.7,22.0 L490.2,21.2 L491.7,21.4 L493.3,21.6 L494.8,21.3 L496.3,22.5 L497.9,22.0 L499.4,21.6 L500.9,22.2 L502.4,22.2 L504.0,22.2 L505.5,21.8 L507.0,22.9 L508.6,22.9 L510.1,22.2 L511.6,21.9 L513.2,21.7 L514.7,21.6 L516.2,22.1 L517.7,21.8 L519.3,21.2 L520.8,21.4" stroke="#d50c35"/>
</g>
<g stroke="#5c5c5c" stroke-width="2" fill="none" stroke-linecap="butt">
<path d="M41.1,9.3 L41.1,259.7 L544.2,259.7"/>
</g>
<g stroke="#333" stroke-width="1.3" fill="none">
<line x1="63.42" y1="259.7" x2="63.42" y2="263.8"/>
<line x1="101.66" y1="259.7" x2="101.66" y2="263.8"/>
<line x1="139.91" y1="259.7" x2="139.91" y2="263.8"/>
<line x1="178.15" y1="259.7" x2="178.15" y2="263.8"/>
<line x1="216.39" y1="259.7" x2="216.39" y2="263.8"/>
<line x1="254.63" y1="259.7" x2="254.63" y2="263.8"/>
<line x1="292.88" y1="259.7" x2="292.88" y2="263.8"/>
<line x1="331.12" y1="259.7" x2="331.12" y2="263.8"/>
<line x1="369.36" y1="259.7" x2="369.36" y2="263.8"/>
<line x1="407.60" y1="259.7" x2="407.60" y2="263.8"/>
<line x1="445.85" y1="259.7" x2="445.85" y2="263.8"/>
<line x1="484.09" y1="259.7" x2="484.09" y2="263.8"/>
<line x1="37.4" y1="248.35" x2="41.1" y2="248.35"/>
<line x1="37.4" y1="214.35" x2="41.1" y2="214.35"/>
<line x1="37.4" y1="180.35" x2="41.1" y2="180.35"/>
<line x1="37.4" y1="146.35" x2="41.1" y2="146.35"/>
<line x1="37.4" y1="112.35" x2="41.1" y2="112.35"/>
<line x1="37.4" y1="78.35" x2="41.1" y2="78.35"/>
<line x1="37.4" y1="44.35" x2="41.1" y2="44.35"/>
<line x1="37.4" y1="10.35" x2="41.1" y2="10.35"/>
</g>
<g>
<text transform="translate(63.42 276) scale(1 1.060)" text-anchor="middle">0</text>
<text transform="translate(101.66 276) scale(1 1.060)" text-anchor="middle">25</text>
<text transform="translate(139.91 276) scale(1 1.060)" text-anchor="middle">50</text>
<text transform="translate(178.15 276) scale(1 1.060)" text-anchor="middle">75</text>
<text transform="translate(216.39 276) scale(1 1.060)" text-anchor="middle">100</text>
<text transform="translate(254.63 276) scale(1 1.060)" text-anchor="middle">125</text>
<text transform="translate(292.88 276) scale(1 1.060)" text-anchor="middle">150</text>
<text transform="translate(331.12 276) scale(1 1.060)" text-anchor="middle">175</text>
<text transform="translate(369.36 276) scale(1 1.060)" text-anchor="middle">200</text>
<text transform="translate(407.60 276) scale(1 1.060)" text-anchor="middle">225</text>
<text transform="translate(445.85 276) scale(1 1.060)" text-anchor="middle">250</text>
<text transform="translate(484.09 276) scale(1 1.060)" text-anchor="middle">275</text>
<text transform="translate(33.1 252.65) scale(1 1.060)" text-anchor="end">0.0</text>
<text transform="translate(33.1 218.65) scale(1 1.060)" text-anchor="end">0.1</text>
<text transform="translate(33.1 184.65) scale(1 1.060)" text-anchor="end">0.2</text>
<text transform="translate(33.1 150.65) scale(1 1.060)" text-anchor="end">0.3</text>
<text transform="translate(33.1 116.65) scale(1 1.060)" text-anchor="end">0.4</text>
<text transform="translate(33.1 82.65) scale(1 1.060)" text-anchor="end">0.5</text>
<text transform="translate(33.1 48.65) scale(1 1.060)" text-anchor="end">0.6</text>
<text transform="translate(33.1 14.65) scale(1 1.060)" text-anchor="end">0.7</text>
</g>
<text x="11.5" y="136.9" text-anchor="middle" transform="rotate(-90 11.5 136.9)" style="font-size:11.4px">AP of ablation experiments</text>
<text transform="translate(292.3 291) scale(1 1.060)" text-anchor="middle">epoch</text>
<rect x="325.4" y="153.5" width="212.8" height="100.6" rx="2" fill="#fff" fill-opacity="0.8" stroke="#d8d8d8" stroke-width="0.8"/>
<line x1="328.3" y1="162.40" x2="352.5" y2="162.40" stroke="#cfe92c" stroke-width="1.7"/>
<text transform="translate(361.6 166.70) scale(1 1.060)" style="font-size:11.3px">YOLOv5</text>
<line x1="328.3" y1="178.53" x2="352.5" y2="178.53" stroke="#22a77a" stroke-width="1.7"/>
<text transform="translate(361.6 182.83) scale(1 1.060)" style="font-size:11.3px">YOLOv5 + NWD</text>
<line x1="328.3" y1="194.66" x2="352.5" y2="194.66" stroke="#dd9850" stroke-width="1.7"/>
<text transform="translate(361.6 198.96) scale(1 1.060)" style="font-size:11.3px">YOLOv5 + BiFPN</text>
<line x1="328.3" y1="210.79" x2="352.5" y2="210.79" stroke="#1f8ce6" stroke-width="1.7"/>
<text transform="translate(361.6 215.09) scale(1 1.060)" style="font-size:11.3px">YOLOv5 + NWD + BiFPN</text>
<line x1="328.3" y1="226.92" x2="352.5" y2="226.92" stroke="#ebcb30" stroke-width="1.7"/>
<text transform="translate(361.6 231.22) scale(1 1.060)" style="font-size:11.3px">YOLOv5 + Fuse P2 + BiFPN</text>
<line x1="328.3" y1="243.05" x2="352.5" y2="243.05" stroke="#d50c35" stroke-width="1.7"/>
<text transform="translate(361.6 247.35) scale(1 1.060)" style="font-size:11.3px">YOLOv5 + Fuse P2 + NWD + BiFPN</text>
</svg>
</body></html>
